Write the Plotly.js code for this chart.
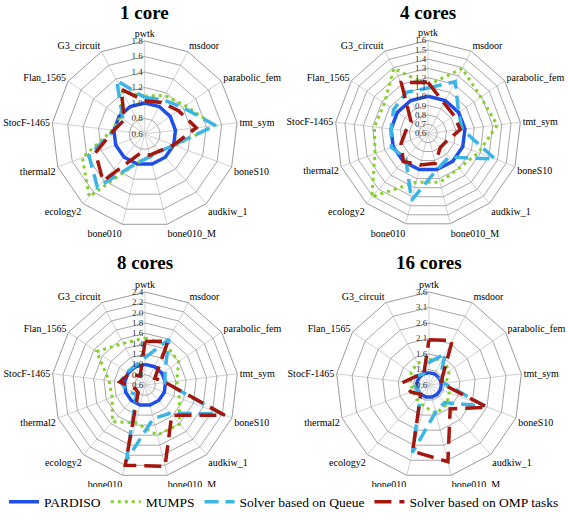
<!DOCTYPE html>
<html>
<head>
<meta charset="utf-8">
<script src="https://cdn.plot.ly/plotly-3.0.1.min.js"></script>
<style>html,body{margin:0;padding:0;background:#fff;}#chart{width:568px;height:524px;}</style>
</head>
<body>
<div id="chart"></div>
<script>
const categories = ['pwtk','msdoor','parabolic_fem','tmt_sym','boneS10','audkiw_1','bone010_M','bone010','ecology2','thermal2','StocF-1465','Flan_1565','G3_circuit'];
const seriesNames = ['PARDISO','MUMPS','Solver based on Queue','Solver based on OMP tasks'];
const panelTitles = ['1 core','4 cores','8 cores','16 cores'];

// 1 core
const pardiso1 = [1,1,1,1,1,1,1,1,1,1,1,1,1];
const mumps1   = [1.09,1.16,1.24,1.51,1.02,0.89,0.90,0.98,1.68,1.46,1.02,0.98,1.22];
const queue1   = [1.07,1.10,1.20,1.52,1.00,0.90,0.90,0.98,1.52,1.37,1.00,0.94,1.38];
const omp1     = [1.03,1.06,1.13,1.27,1.00,0.89,0.88,0.86,1.41,1.28,1.00,0.92,1.25];
// 4 cores
const pardiso4 = [1,1,1,1,1,1,1,1,1,1,1,1,1];
const mumps4   = [1.12,1.39,1.29,1.35,1.18,1.10,1.14,1.14,1.51,1.21,1.18,1.17,1.39];
const queue4   = [1.09,1.23,1.00,0.97,1.37,0.94,1.00,1.34,0.96,1.02,1.00,1.05,1.10];
const omp4     = [1.15,0.97,0.94,0.95,0.82,0.80,0.93,0.95,1.00,0.91,0.84,0.82,1.22];
// 8 cores
const pardiso8 = [1,1,1,1,1,1,1,1,1,1,1,1,1];
const mumps8   = [1.51,1.48,1.39,1.22,1.31,1.61,1.60,1.35,1.55,1.28,1.30,1.74,1.51];
const queue8   = [1.13,1.60,1.07,0.99,2.18,1.33,1.27,2.10,0.85,0.95,1.08,1.03,1.02];
const omp8     = [1.44,1.56,0.83,1.00,2.25,1.38,2.22,2.20,0.80,0.80,1.09,0.98,0.80];
// 16 cores
const pardiso16 = [1,1,1,1,1,1,1,1,1,1,1,1,1];
const mumps16   = [1.42,1.55,1.40,1.15,1.30,1.45,1.55,1.30,1.20,1.15,1.20,1.30,1.40];
const queue16   = [1.33,1.74,1.03,1.09,2.50,1.36,1.50,2.85,1.00,1.00,1.10,1.10,1.00];
const omp16     = [2.06,2.22,1.14,1.00,2.62,1.63,3.15,2.80,1.00,1.23,1.41,1.10,0.97];

const radialRanges = [[0.6,1.8],[0.6,1.6],[0.6,2.4],[0.6,3.6]];
const radialSteps = [0.2,0.1,0.2,0.5];

const panels = [
  [pardiso1,mumps1,queue1,omp1],
  [pardiso4,mumps4,queue4,omp4],
  [pardiso8,mumps8,queue8,omp8],
  [pardiso16,mumps16,queue16,omp16]
];

const styles = [
  {color:'#1f4fe6', width:3.5, dash:'solid'},
  {color:'#84d02a', width:3, dash:'3px,4px'},
  {color:'#3cb4e6', width:3.5, dash:'14px,7px'},
  {color:'#a3170f', width:3.5, dash:'17px,8px'}
];

const W = 568, H = 524;
const centers = [[144.7,134],[428,133.5],[145,385],[429,385]];
const R = 93;

const serif = 'Liberation Serif';
const traces = [];
panels.forEach((p, pi) => {
  p.forEach((vals, si) => {
    traces.push({
      type:'scatterpolar',
      mode:'lines',
      r: vals.concat([vals[0]]),
      theta: categories.concat([categories[0]]),
      subplot: pi === 0 ? 'polar' : 'polar' + (pi+1),
      name: seriesNames[si],
      showlegend: pi === 0,
      legendgroup: seriesNames[si],
      line: {color: styles[si].color, width: styles[si].width, dash: styles[si].dash},
      hoverinfo:'skip'
    });
  });
});

const layout = {
  width: W, height: H,
  margin:{l:0,r:0,t:0,b:0},
  paper_bgcolor:'#fff',
  showlegend:true,
  legend:{orientation:'h', x:0.5, xanchor:'center', y:(H-502)/H, yanchor:'middle',
          font:{family:serif, size:13.5, color:'#000'}, itemwidth:30, traceorder:'normal'},
  annotations: [],
  font:{family:serif}
};

centers.forEach((c, pi) => {
  const key = pi === 0 ? 'polar' : 'polar' + (pi+1);
  layout[key] = {
    domain:{x:[(c[0]-R)/W,(c[0]+R)/W], y:[(H-c[1]-R)/H,(H-c[1]+R)/H]},
    bgcolor:'#fff',
    gridshape:'linear',
    angularaxis:{
      direction:'clockwise', rotation:90, type:'category',
      categoryarray: categories,
      tickfont:{family:serif, size:10, color:'#000'},
      linecolor:'#9a9a9a', linewidth:1, gridcolor:'#d0d0d0', gridwidth:1,
      ticks:''
    },
    radialaxis:{
      range: radialRanges[pi], dtick: radialSteps[pi], tick0: 0.6,
      angle:90, side:'counterclockwise', tickangle:90,
      tickformat:'.1f',
      tickfont:{family:serif, size:9, color:'#333'},
      showline:false, gridcolor:'#a8a8a8', gridwidth:1, ticks:''
    }
  };
  layout.annotations.push({
    text:'<b>'+panelTitles[pi]+'</b>', xref:'paper', yref:'paper',
    x:c[0]/W, y:(H-(pi<2?12:262))/H, xanchor:'center', yanchor:'middle',
    showarrow:false, font:{family:serif, size:19, color:'#000'}
  });
});

Plotly.newPlot('chart', traces, layout, {displayModeBar:false, staticPlot:true});
</script>
</body>
</html>
